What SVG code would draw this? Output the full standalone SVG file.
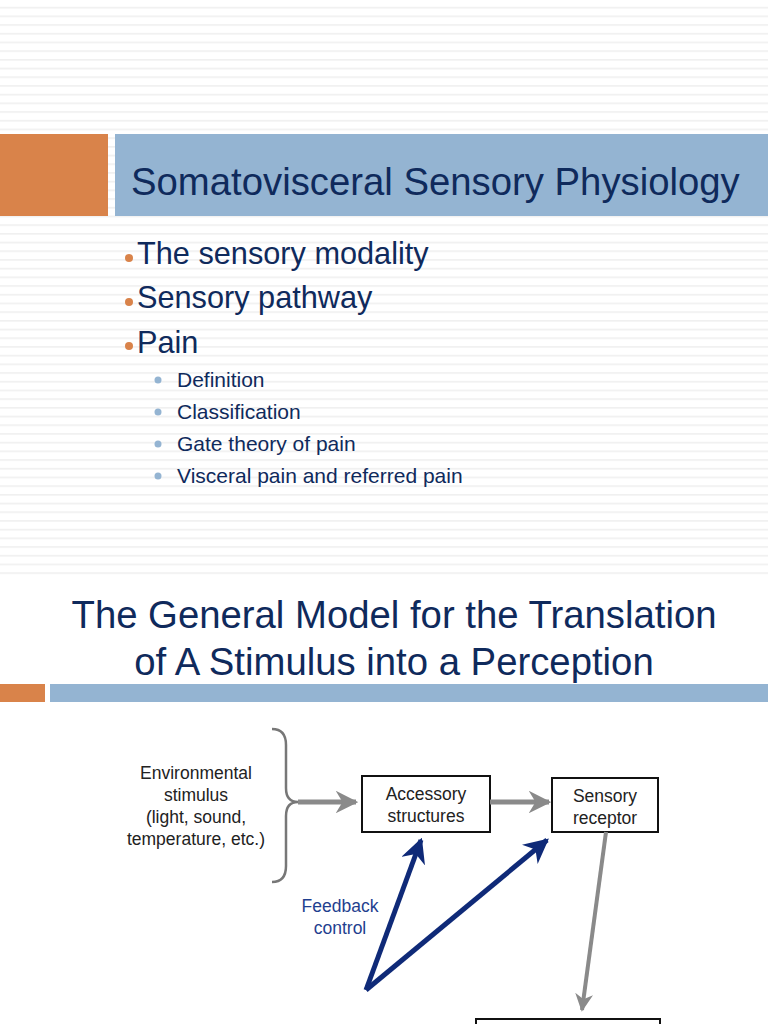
<svg xmlns="http://www.w3.org/2000/svg" width="768" height="1024" viewBox="0 0 768 1024">
<defs>
<pattern id="st" x="0" y="0" width="768" height="8.7" patternUnits="userSpaceOnUse">
<rect x="0" y="7" width="768" height="1.3" fill="#ececec"/>
</pattern>
<marker id="ga" viewBox="0 0 10 10" refX="9" refY="5" markerWidth="4.5" markerHeight="4.5" orient="auto" markerUnits="strokeWidth"><path d="M0,0 L10,5 L0,10 L3,5 Z" fill="#8a8a8a"/></marker>
<marker id="ba" viewBox="0 0 10 10" refX="9" refY="5" markerWidth="5" markerHeight="5" orient="auto" markerUnits="strokeWidth"><path d="M0,0 L10,5 L0,10 L3,5 Z" fill="#0f2a78"/></marker>
</defs>
<style>
.t{font-family:"Liberation Sans",Arial,sans-serif}
.h{fill:#0f2a5c}
.d{fill:#222;font-size:17.5px;text-anchor:middle}
.box{fill:#fff;stroke:#111;stroke-width:2}
</style>
<rect width="768" height="1024" fill="#fff"/>
<rect x="0" y="0" width="768" height="575" fill="url(#st)"/>
<rect x="0" y="134" width="108" height="82" fill="#d9834a"/>
<rect x="115" y="134" width="653" height="82" fill="#94b4d2"/>
<text class="t h" x="131" y="195" font-size="38.3">Somatovisceral Sensory Physiology</text>
<g class="t h" font-size="30.7">
<circle cx="129" cy="258" r="4" fill="#d9834a"/><text x="137" y="264">The sensory modality</text>
<circle cx="129" cy="302" r="4" fill="#d9834a"/><text x="137" y="308">Sensory pathway</text>
<circle cx="129" cy="346" r="4" fill="#d9834a"/><text x="137" y="353">Pain</text>
</g>
<g class="t h" font-size="21">
<circle cx="158" cy="380" r="3.5" fill="#94b4d2"/><text x="177" y="387">Definition</text>
<circle cx="158" cy="412" r="3.5" fill="#94b4d2"/><text x="177" y="419">Classification</text>
<circle cx="158" cy="444" r="3.5" fill="#94b4d2"/><text x="177" y="451">Gate theory of pain</text>
<circle cx="158" cy="476" r="3.5" fill="#94b4d2"/><text x="177" y="483">Visceral pain and referred pain</text>
</g>
<rect x="0" y="575" width="768" height="449" fill="#fff"/>
<g class="t h" font-size="38.3" text-anchor="middle">
<text x="394" y="628">The General Model for the Translation</text>
<text x="394" y="675">of A Stimulus into a Perception</text>
</g>
<rect x="0" y="684" width="45" height="18" fill="#d9834a"/>
<rect x="50" y="684" width="718" height="18" fill="#94b4d2"/>
<g id="stimulus">
<text class="t d" x="196" y="779">Environmental</text>
<text class="t d" x="196" y="801">stimulus</text>
<text class="t d" x="196" y="823">(light, sound,</text>
<text class="t d" x="196" y="845">temperature, etc.)</text>
<path d="M272,729 Q286,729 286,745 L286,788 Q286,802 298,802 Q286,802 286,816 L286,866 Q286,882 272,882" fill="none" stroke="#777" stroke-width="2.5"/>
</g>
<g id="accessory"><rect class="box" x="362" y="776" width="128" height="56"/>
<text class="t d" x="426" y="800">Accessory</text><text class="t d" x="426" y="822">structures</text></g>
<g id="receptor"><rect class="box" x="552" y="778" width="106" height="54"/>
<text class="t d" x="605" y="802">Sensory</text><text class="t d" x="605" y="824">receptor</text></g>
<g id="bottom"><rect class="box" x="476" y="1019" width="184" height="20"/></g>
<g id="feedback"><text class="t" x="340" y="912" font-size="17.5" fill="#1f3f8f" text-anchor="middle">Feedback</text>
<text class="t" x="340" y="934" font-size="17.5" fill="#1f3f8f" text-anchor="middle">control</text></g>
<g id="connectors" fill="none">
<line x1="298" y1="802" x2="356" y2="802" stroke="#8a8a8a" stroke-width="5" marker-end="url(#ga)"/>
<line x1="490" y1="802" x2="549" y2="802" stroke="#8a8a8a" stroke-width="5" marker-end="url(#ga)"/>
<line x1="606" y1="832" x2="582" y2="1010" stroke="#8a8a8a" stroke-width="4" marker-end="url(#ga)"/>
<line x1="366" y1="990" x2="421" y2="840" stroke="#0f2a78" stroke-width="5" marker-end="url(#ba)"/>
<line x1="366" y1="990" x2="547" y2="840" stroke="#0f2a78" stroke-width="5" marker-end="url(#ba)"/>
</g>
</svg>
